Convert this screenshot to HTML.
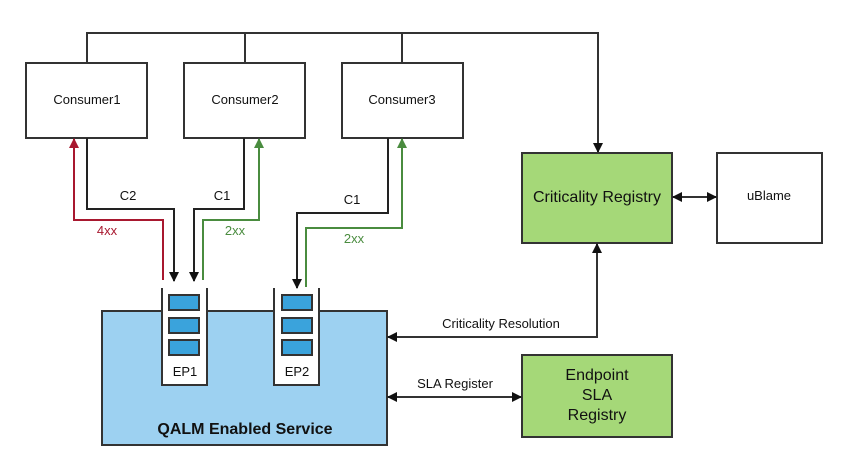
<!DOCTYPE html>
<html><head><meta charset="utf-8"><style>
html,body{margin:0;padding:0;background:#fff;}
svg{display:block;font-family:"Liberation Sans",Arial,sans-serif;}
</style></head><body>
<svg width="849" height="472" viewBox="0 0 849 472" xmlns="http://www.w3.org/2000/svg">
<defs>
<marker id="ak" markerWidth="10" markerHeight="10" refX="9" refY="5" orient="auto" markerUnits="userSpaceOnUse"><path d="M0,0 L10,5 L0,10 z" fill="#111"/></marker>
<marker id="aks" markerWidth="10" markerHeight="10" refX="1" refY="5" orient="auto" markerUnits="userSpaceOnUse"><path d="M10,0 L0,5 L10,10 z" fill="#111"/></marker>
<marker id="ar" markerWidth="10" markerHeight="10" refX="9" refY="5" orient="auto" markerUnits="userSpaceOnUse"><path d="M0,0 L10,5 L0,10 z" fill="#a8182f"/></marker>
<marker id="ag" markerWidth="10" markerHeight="10" refX="9" refY="5" orient="auto" markerUnits="userSpaceOnUse"><path d="M0,0 L10,5 L0,10 z" fill="#4a8c3f"/></marker>
</defs>
<g stroke="#333" stroke-width="2" fill="none">
<!-- top bus -->
<path d="M87,63 V33 H598 V152" marker-end="url(#ak)"/>
<path d="M245,33 V63"/>
<path d="M402,33 V63"/>
</g>
<!-- consumers -->
<g stroke="#333" stroke-width="2" fill="#fff">
<rect x="26" y="63" width="121" height="75"/>
<rect x="184" y="63" width="121" height="75"/>
<rect x="342" y="63" width="121" height="75"/>
<rect x="717" y="153" width="105" height="90"/>
</g>
<g fill="#111" font-size="13" text-anchor="middle">
<text x="87" y="104">Consumer1</text>
<text x="245" y="104">Consumer2</text>
<text x="402" y="104">Consumer3</text>
<text x="769" y="200">uBlame</text>
</g>
<!-- blue service -->
<rect x="102" y="311" width="285" height="134" fill="#9dd1f1" stroke="#333" stroke-width="2"/>
<!-- EP containers -->
<g stroke="#333" stroke-width="2" fill="#fff">
<path d="M162,288 V385 H207 V288"/>
<path d="M274,288 V385 H319 V288"/>
</g>
<rect x="163" y="311" width="43" height="73" fill="#fff"/>
<rect x="275" y="311" width="43" height="73" fill="#fff"/>
<g fill="#3aa3dc" stroke="#333" stroke-width="2">
<rect x="169" y="295" width="30" height="15"/>
<rect x="169" y="318" width="30" height="15"/>
<rect x="169" y="340" width="30" height="15"/>
<rect x="282" y="295" width="30" height="15"/>
<rect x="282" y="318" width="30" height="15"/>
<rect x="282" y="340" width="30" height="15"/>
</g>
<g fill="#111" font-size="13" text-anchor="middle">
<text x="185" y="376">EP1</text>
<text x="297" y="376">EP2</text>
</g>
<text x="245" y="434" font-size="16" font-weight="bold" text-anchor="middle" fill="#111">QALM Enabled Service</text>
<!-- flows -->
<g fill="none" stroke-width="2">
<path d="M87,138 V209 H174 V281" stroke="#222" marker-end="url(#ak)"/>
<path d="M244,138 V209 H194 V281" stroke="#222" marker-end="url(#ak)"/>
<path d="M388,138 V213 H297 V288" stroke="#222" marker-end="url(#ak)"/>
<path d="M163,280 V220 H74 V139" stroke="#a8182f" marker-end="url(#ar)"/>
<path d="M203,280 V220 H259 V139" stroke="#4a8c3f" marker-end="url(#ag)"/>
<path d="M306,287 V228 H402 V139" stroke="#4a8c3f" marker-end="url(#ag)"/>
</g>
<g font-size="13" text-anchor="middle">
<text x="128" y="200" fill="#111">C2</text>
<text x="222" y="200" fill="#111">C1</text>
<text x="352" y="204" fill="#111">C1</text>
<text x="107" y="235" fill="#a8182f">4xx</text>
<text x="235" y="235" fill="#4a8c3f">2xx</text>
<text x="354" y="243" fill="#4a8c3f">2xx</text>
</g>
<!-- green boxes -->
<g fill="#a5d878" stroke="#333" stroke-width="2">
<rect x="522" y="153" width="150" height="90"/>
<rect x="522" y="355" width="150" height="82"/>
</g>
<g fill="#111" font-size="16" text-anchor="middle">
<text x="597" y="202">Criticality Registry</text>
<text x="597" y="380">Endpoint</text>
<text x="597" y="400">SLA</text>
<text x="597" y="420">Registry</text>
</g>
<!-- right connectors -->
<g fill="none" stroke="#333" stroke-width="2">
<path d="M673,197 H716" marker-start="url(#aks)" marker-end="url(#ak)"/>
<path d="M597,244 V337 H388" marker-start="url(#aks)" marker-end="url(#ak)"/>
<path d="M388,397 H521" marker-start="url(#aks)" marker-end="url(#ak)"/>
</g>
<g fill="#111" font-size="13" text-anchor="middle">
<text x="501" y="328">Criticality Resolution</text>
<text x="455" y="388">SLA Register</text>
</g>
</svg>
</body></html>
